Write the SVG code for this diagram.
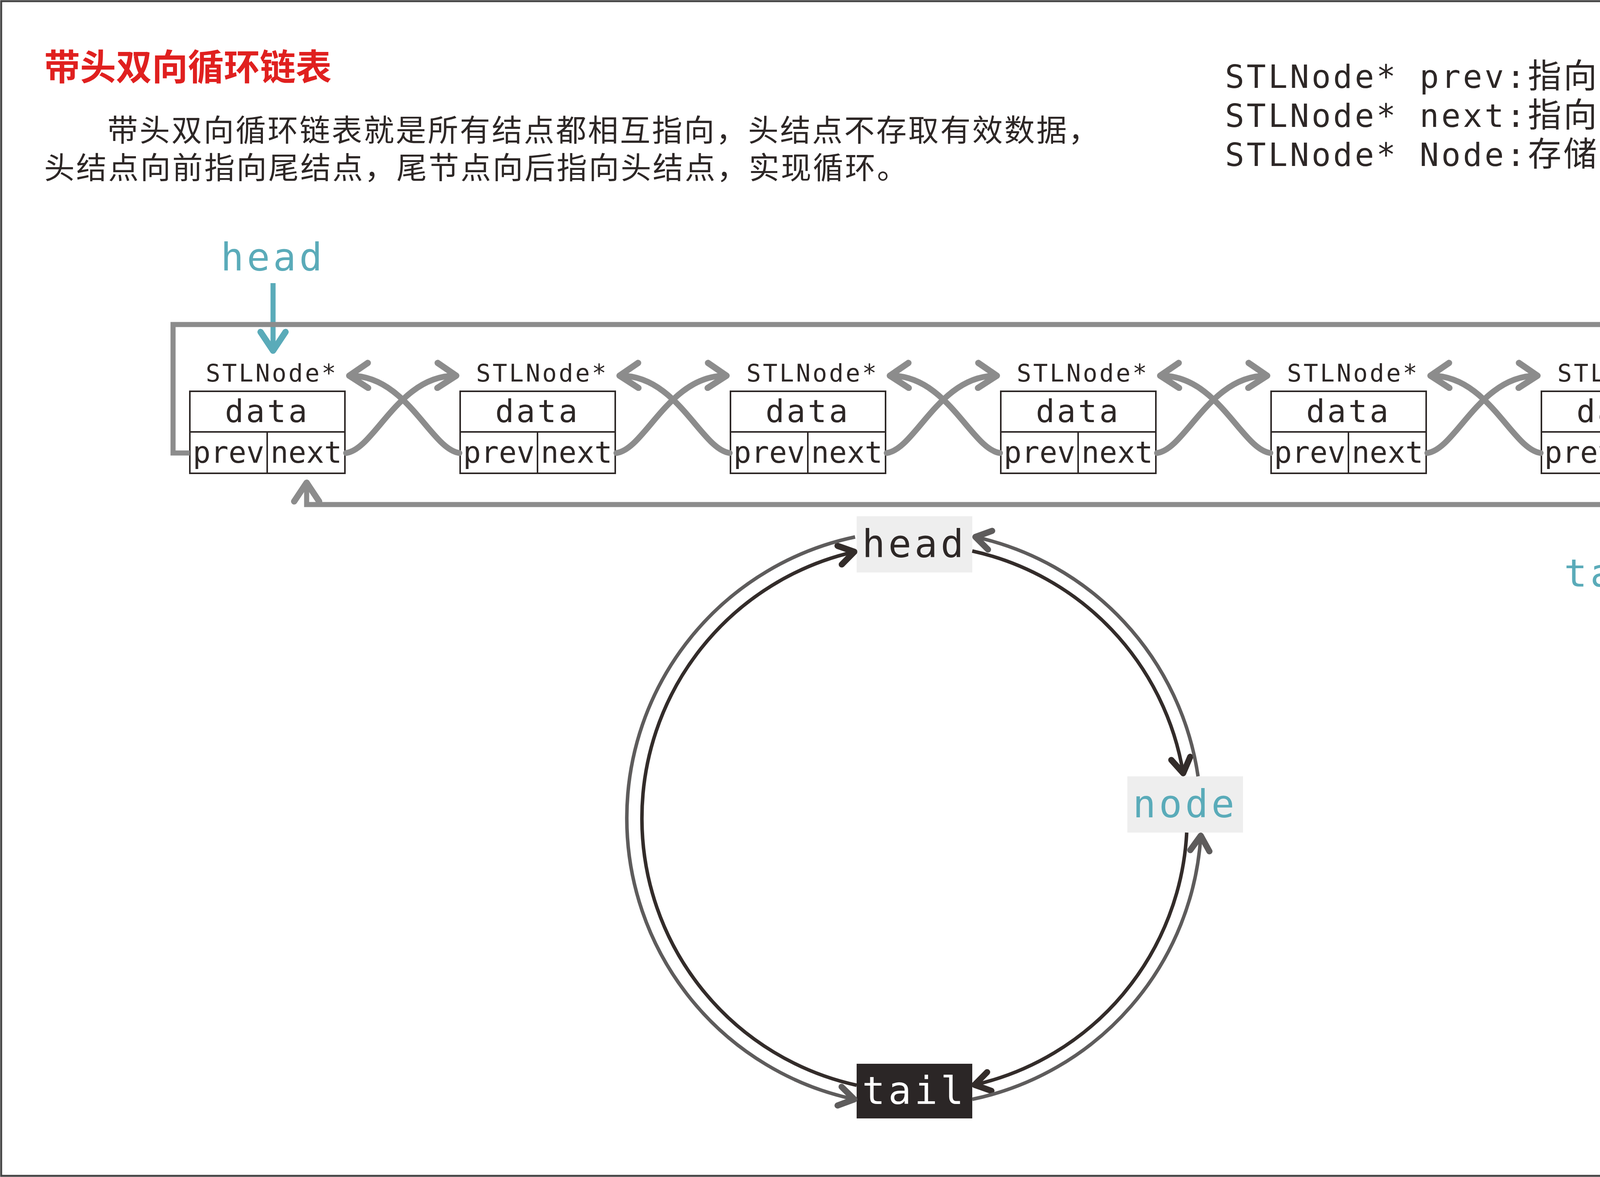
<svg xmlns="http://www.w3.org/2000/svg" width="4788" height="3014" viewBox="0 0 4788 3014">
<style>
.mono{font-family:"DejaVu Sans Mono","Liberation Mono",monospace;fill:#2d2726}
.cjk{font-family:"Noto Sans CJK SC",sans-serif;fill:#2d2726}
.box{fill:#fff;stroke:#2d2726;stroke-width:4}
.cross{fill:none;stroke:#8c8c8c;stroke-width:15;stroke-linecap:round}
.loop{fill:none;stroke:#8c8c8c;stroke-width:13}
.teal{fill:none;stroke:#5aabb9;stroke-width:13}
.dk{fill:none;stroke:#332c2a;stroke-width:9}
.gy{fill:none;stroke:#5e5c5c;stroke-width:9}
</style>
<defs>
<marker id="ag" viewBox="0 0 20 20" refX="16" refY="10" markerWidth="80" markerHeight="80" markerUnits="userSpaceOnUse" orient="auto"><path d="M4,2 L16,10 L4,18" fill="none" stroke="#8c8c8c" stroke-width="4" stroke-linecap="round" stroke-linejoin="round"/></marker>
<marker id="at" viewBox="0 0 20 20" refX="16" refY="10" markerWidth="80" markerHeight="80" markerUnits="userSpaceOnUse" orient="auto"><path d="M4,2 L16,10 L4,18" fill="none" stroke="#5aabb9" stroke-width="4" stroke-linecap="round" stroke-linejoin="round"/></marker>
<marker id="ad" viewBox="0 0 20 20" refX="16" refY="10" markerWidth="70" markerHeight="70" markerUnits="userSpaceOnUse" orient="auto"><path d="M5,3 L16,10 L5,17" fill="none" stroke="#332c2a" stroke-width="4.5" stroke-linecap="round" stroke-linejoin="round"/></marker>
<marker id="am" viewBox="0 0 20 20" refX="16" refY="10" markerWidth="70" markerHeight="70" markerUnits="userSpaceOnUse" orient="auto"><path d="M5,3 L16,10 L5,17" fill="none" stroke="#5e5c5c" stroke-width="4.5" stroke-linecap="round" stroke-linejoin="round"/></marker>
</defs>
<rect x="3" y="3" width="4782" height="3008" fill="#fff" stroke="#444" stroke-width="5"/>

<g id="title">
<text x="113" y="205" font-size="92" font-family="Noto Sans CJK SC,sans-serif" fill="#e0201f" font-weight="bold">带头双向循环链表</text>
<text x="275" y="362" font-size="78" class="cjk" letter-spacing="4">带头双向循环链表就是所有结点都相互指向，头结点不存取有效数据，</text>
<text x="113" y="458" font-size="78" class="cjk" letter-spacing="4">头结点向前指向尾结点，尾节点向后指向头结点，实现循环。</text>
</g>
<g id="legend" font-size="82">
<text x="3136" y="225" class="mono" letter-spacing="6">STLNode* prev:<tspan class="cjk" font-size="86" letter-spacing="5">指向前一个节点</tspan></text>
<text x="3136" y="325" class="mono" letter-spacing="6">STLNode* next:<tspan class="cjk" font-size="86" letter-spacing="5">指向后一个节点</tspan></text>
<text x="3136" y="425" class="mono" letter-spacing="6">STLNode* Node:<tspan class="cjk" font-size="86" letter-spacing="5">存储节点地址的变量</tspan></text>
</g>

<g id="node1" transform="translate(486,0)"><text x="210" y="977" font-size="62" class="mono" text-anchor="middle" letter-spacing="5">STLNode*</text><rect class="box" x="0" y="1002" width="397" height="104"/><rect class="box" x="0" y="1106" width="198" height="106"/><rect class="box" x="198" y="1106" width="199" height="106"/><text x="198" y="1081" font-size="80" class="mono" text-anchor="middle" letter-spacing="6">data</text><text x="99" y="1185" font-size="76" class="mono" text-anchor="middle">prev</text><text x="298" y="1185" font-size="76" class="mono" text-anchor="middle">next</text></g>
<g id="node2" transform="translate(1178,0)"><text x="210" y="977" font-size="62" class="mono" text-anchor="middle" letter-spacing="5">STLNode*</text><rect class="box" x="0" y="1002" width="397" height="104"/><rect class="box" x="0" y="1106" width="198" height="106"/><rect class="box" x="198" y="1106" width="199" height="106"/><text x="198" y="1081" font-size="80" class="mono" text-anchor="middle" letter-spacing="6">data</text><text x="99" y="1185" font-size="76" class="mono" text-anchor="middle">prev</text><text x="298" y="1185" font-size="76" class="mono" text-anchor="middle">next</text></g>
<g id="node3" transform="translate(1870,0)"><text x="210" y="977" font-size="62" class="mono" text-anchor="middle" letter-spacing="5">STLNode*</text><rect class="box" x="0" y="1002" width="397" height="104"/><rect class="box" x="0" y="1106" width="198" height="106"/><rect class="box" x="198" y="1106" width="199" height="106"/><text x="198" y="1081" font-size="80" class="mono" text-anchor="middle" letter-spacing="6">data</text><text x="99" y="1185" font-size="76" class="mono" text-anchor="middle">prev</text><text x="298" y="1185" font-size="76" class="mono" text-anchor="middle">next</text></g>
<g id="node4" transform="translate(2562,0)"><text x="210" y="977" font-size="62" class="mono" text-anchor="middle" letter-spacing="5">STLNode*</text><rect class="box" x="0" y="1002" width="397" height="104"/><rect class="box" x="0" y="1106" width="198" height="106"/><rect class="box" x="198" y="1106" width="199" height="106"/><text x="198" y="1081" font-size="80" class="mono" text-anchor="middle" letter-spacing="6">data</text><text x="99" y="1185" font-size="76" class="mono" text-anchor="middle">prev</text><text x="298" y="1185" font-size="76" class="mono" text-anchor="middle">next</text></g>
<g id="node5" transform="translate(3254,0)"><text x="210" y="977" font-size="62" class="mono" text-anchor="middle" letter-spacing="5">STLNode*</text><rect class="box" x="0" y="1002" width="397" height="104"/><rect class="box" x="0" y="1106" width="198" height="106"/><rect class="box" x="198" y="1106" width="199" height="106"/><text x="198" y="1081" font-size="80" class="mono" text-anchor="middle" letter-spacing="6">data</text><text x="99" y="1185" font-size="76" class="mono" text-anchor="middle">prev</text><text x="298" y="1185" font-size="76" class="mono" text-anchor="middle">next</text></g>
<g id="node6" transform="translate(3946,0)"><text x="210" y="977" font-size="62" class="mono" text-anchor="middle" letter-spacing="5">STLNode*</text><rect class="box" x="0" y="1002" width="397" height="104"/><rect class="box" x="0" y="1106" width="198" height="106"/><rect class="box" x="198" y="1106" width="199" height="106"/><text x="198" y="1081" font-size="80" class="mono" text-anchor="middle" letter-spacing="6">data</text><text x="99" y="1185" font-size="76" class="mono" text-anchor="middle">prev</text><text x="298" y="1185" font-size="76" class="mono" text-anchor="middle">next</text></g>

<g id="labels">
<text x="699" y="693" font-size="98" font-family="DejaVu Sans Mono,monospace" fill="#5aabb9" text-anchor="middle" letter-spacing="8">head</text>
<text x="4138" y="1502" font-size="98" font-family="DejaVu Sans Mono,monospace" fill="#5aabb9" text-anchor="middle" letter-spacing="8">tail</text>
</g>

<g id="ring-labels">
<rect x="2193" y="1322" width="296" height="144" fill="#eeeeee"/>
<text x="2341" y="1427" font-size="98" font-family="DejaVu Sans Mono,monospace" fill="#2d2726" text-anchor="middle" letter-spacing="8">head</text>
<rect x="2886" y="1988" width="296" height="144" fill="#eeeeee"/>
<text x="3034" y="2093" font-size="98" font-family="DejaVu Sans Mono,monospace" fill="#5aabb9" text-anchor="middle" letter-spacing="8">node</text>
<rect x="2193" y="2724" width="296" height="140" fill="#2b2626"/>
<text x="2341" y="2827" font-size="98" font-family="DejaVu Sans Mono,monospace" fill="#ffffff" text-anchor="middle" letter-spacing="8">tail</text>
</g>

<g id="connectors">
<path class="teal" d="M699,725 V898" marker-end="url(#at)"/>
<path class="teal" d="M4138,1425 V1240" marker-end="url(#at)"/>
<path class="loop" d="M486,1160 H443 V831 H4147 V898" marker-end="url(#ag)"/>
<path class="loop" d="M4303,1215 V1292 H785 V1236" marker-end="url(#ag)"/>
<path class="cross" d="M886,1160 C960,1150 1020,960 1168,962" marker-end="url(#ag)"/>
<path class="cross" d="M1176,1160 C1102,1150 1042,960 894,962" marker-end="url(#ag)"/>
<path class="cross" d="M1578,1160 C1652,1150 1712,960 1860,962" marker-end="url(#ag)"/>
<path class="cross" d="M1868,1160 C1794,1150 1734,960 1586,962" marker-end="url(#ag)"/>
<path class="cross" d="M2270,1160 C2344,1150 2404,960 2552,962" marker-end="url(#ag)"/>
<path class="cross" d="M2560,1160 C2486,1150 2426,960 2278,962" marker-end="url(#ag)"/>
<path class="cross" d="M2962,1160 C3036,1150 3096,960 3244,962" marker-end="url(#ag)"/>
<path class="cross" d="M3252,1160 C3178,1150 3118,960 2970,962" marker-end="url(#ag)"/>
<path class="cross" d="M3654,1160 C3728,1150 3788,960 3936,962" marker-end="url(#ag)"/>
<path class="cross" d="M3944,1160 C3870,1150 3810,960 3662,962" marker-end="url(#ag)"/>

<path class="dk" d="M2489,1411 A700,700 0 0 1 3029,1980" marker-end="url(#ad)"/>
<path class="dk" d="M3038,2132 A700,700 0 0 1 2495,2778" marker-end="url(#ad)"/>
<path class="dk" d="M2193,2779 A700,700 0 0 1 2187,1413" marker-end="url(#ad)"/>
<path class="gy" d="M3067,1988 A736,736 0 0 0 2497,1375" marker-end="url(#am)"/>
<path class="gy" d="M2489,2815 A736,736 0 0 0 3074,2140" marker-end="url(#am)"/>
<path class="gy" d="M2189,1375 A736,736 0 0 0 2187,2815" marker-end="url(#am)"/>
</g>
</svg>
